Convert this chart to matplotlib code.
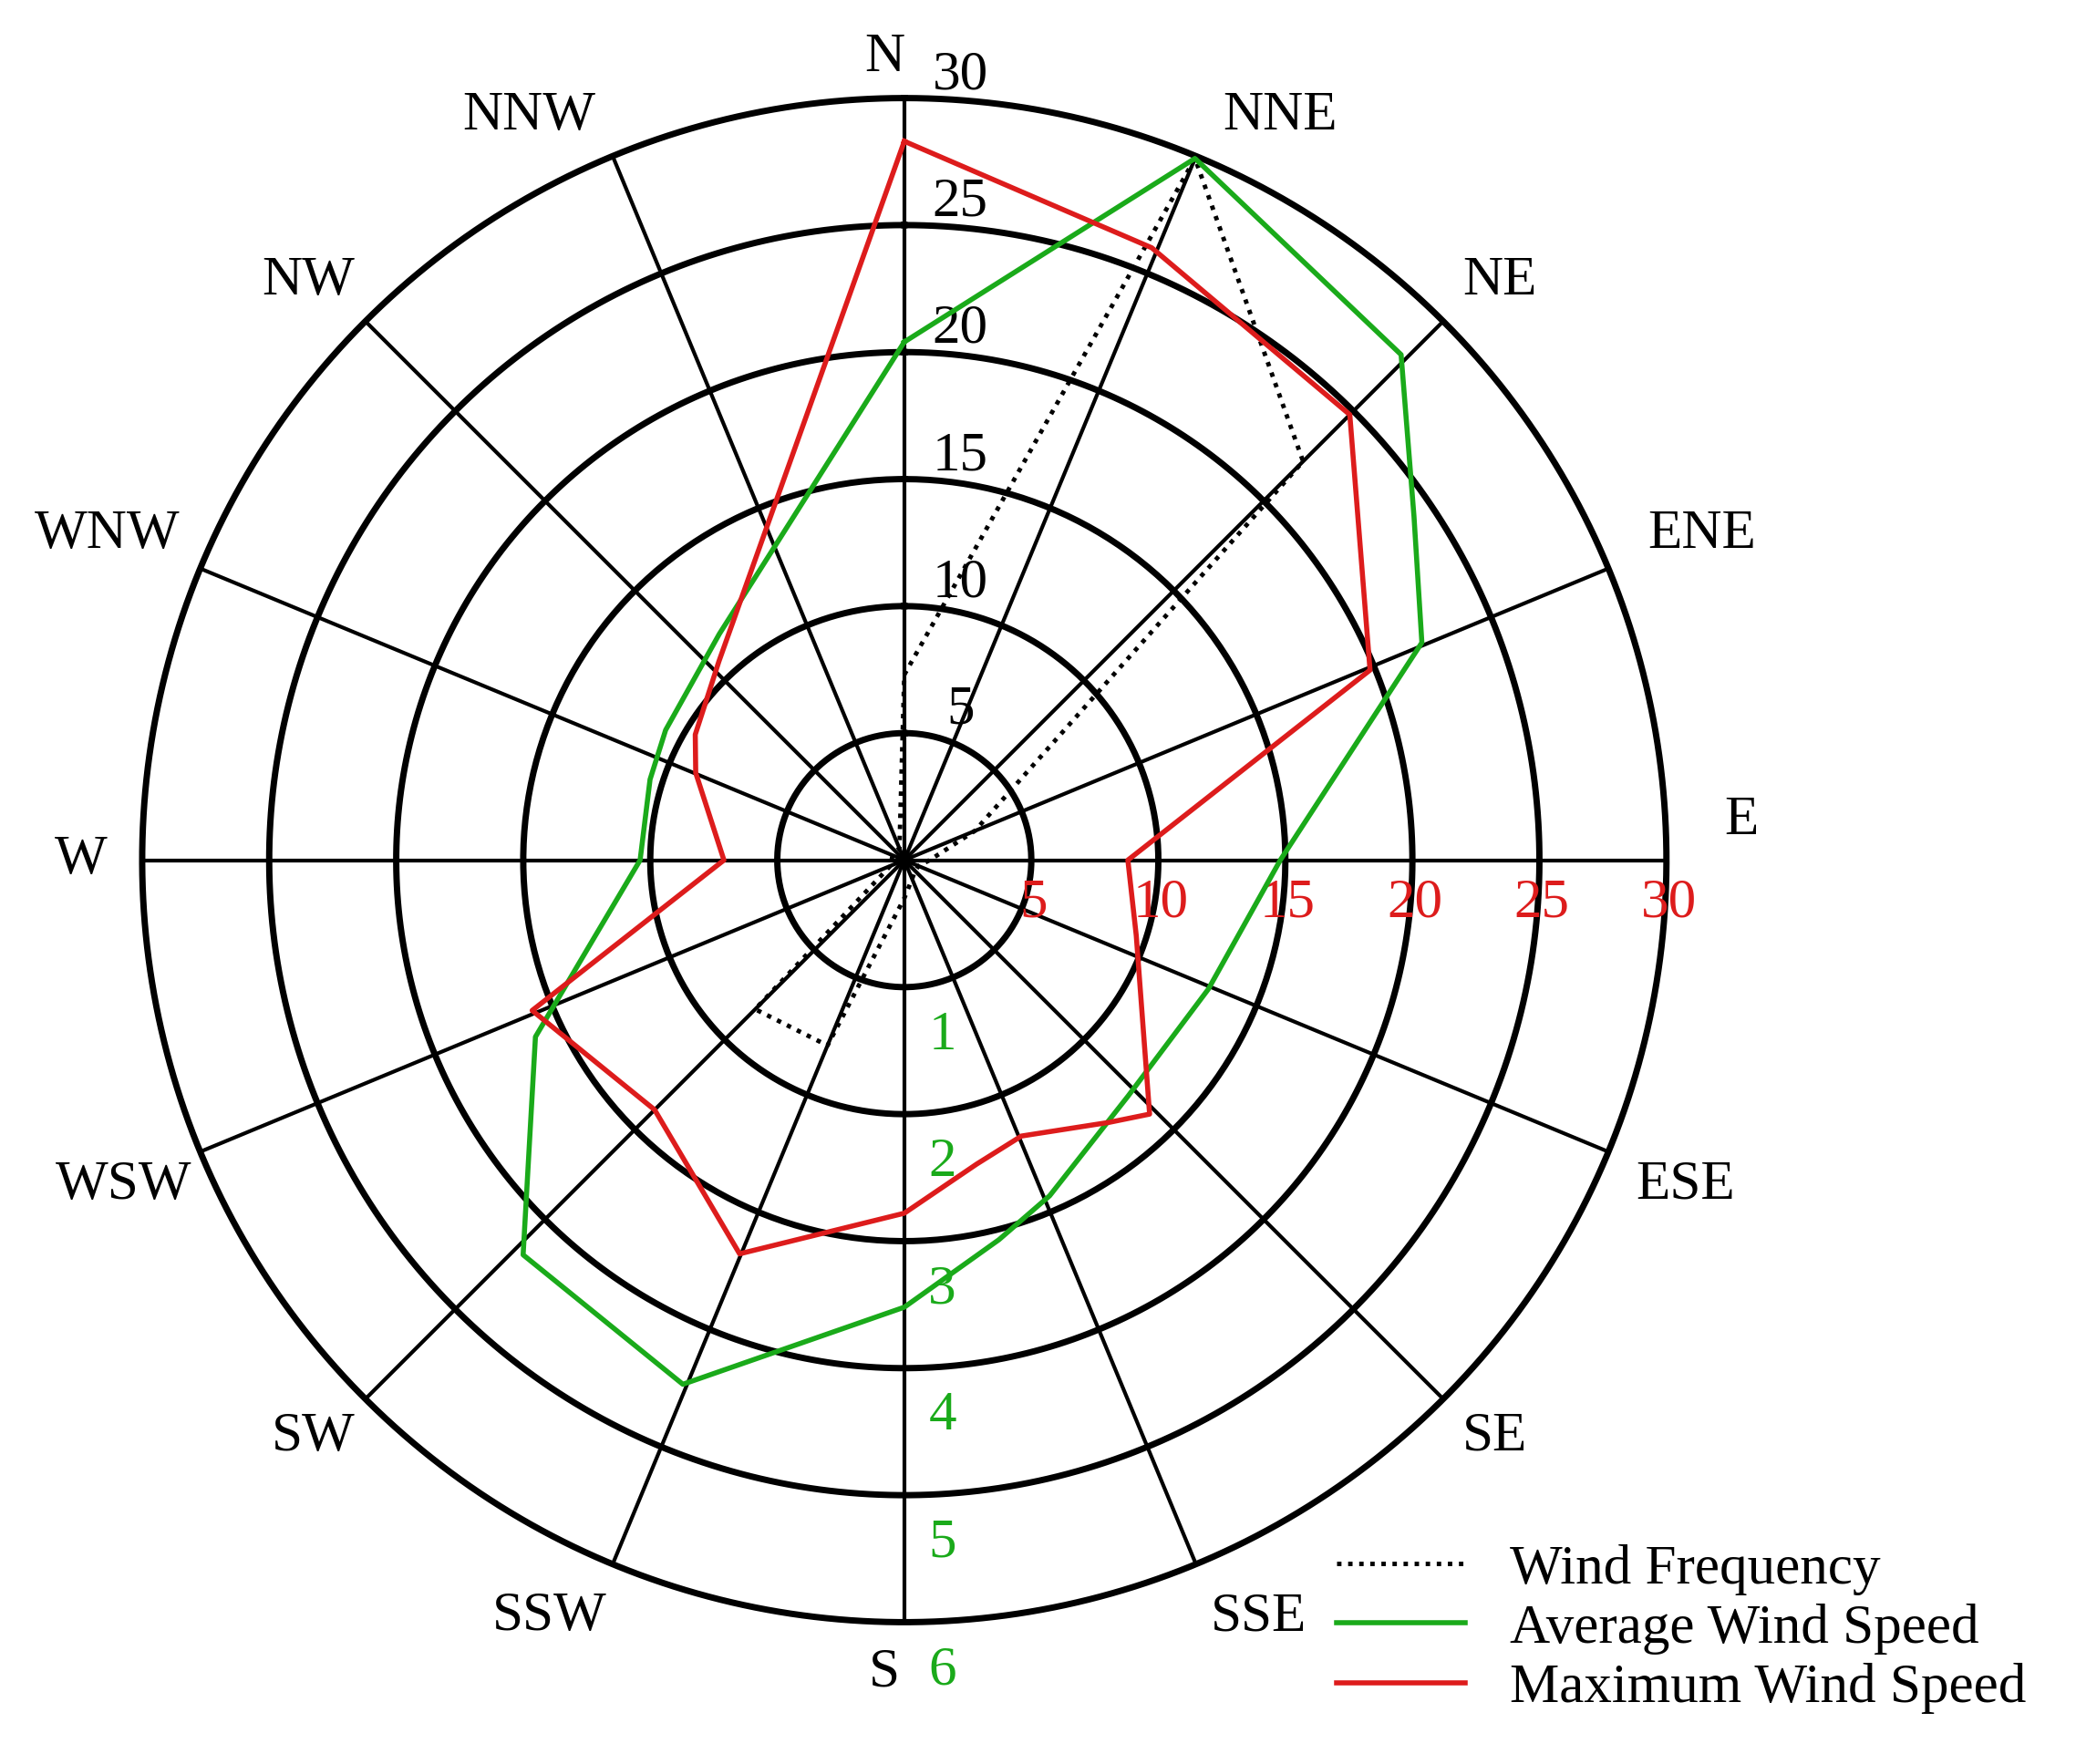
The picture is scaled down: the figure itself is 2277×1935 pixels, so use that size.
import numpy as np
import matplotlib
matplotlib.use("Agg")
import matplotlib.pyplot as plt

plt.rcParams['font.family'] = ['Liberation Serif', 'DejaVu Serif']

directions = ['N','NNE','NE','ENE','E','ESE','SE','SSE','S','SSW','SW','WSW','W','WNW','NW','NNW']
dir_angles = np.arange(16) * 22.5

# Average wind speed (m/s), polyline vertices (bearing deg, value)
avg_angles = [0, 22.5, 44.5, 56, 67.2, 90, 113, 136.5, 156.6, 166, 180, 202.9, 224, 244.4, 270, 287.6, 298.6, 320.7, 0]
avg_speed = [4.08, 5.98, 5.58, 4.84, 4.42, 2.96, 2.6, 2.56, 2.88, 3.08, 3.52, 4.48, 4.32, 3.22, 2.08, 2.1, 2.14, 2.3, 4.08]

# Maximum wind speed (m/s)
max_angles = [0, 22, 45, 67.8, 90, 108, 136, 142, 157, 166.6, 180, 202.7, 225, 248, 270, 292.7, 301, 317, 0]
max_speed = [28.3, 26.0, 24.8, 19.8, 8.8, 9.6, 13.9, 13.1, 11.8, 12.3, 13.9, 16.8, 13.9, 15.8, 7.1, 8.9, 9.6, 10.7, 28.3]

# Wind frequency (%)
freq = [7.3, 29.9, 22.2, 3.0, 1.0, 0.6, 0.6, 0.8, 1.5, 7.9, 8.3, 0.6, 0.5, 0.5, 0.5, 0.5]

speed_ticks = [5, 10, 15, 20, 25, 30]
avg_ticks = [1, 2, 3, 4, 5, 6]

# label placement (bearing deg, radius) per direction
label_pos = {'N': (-1.4, 31.6), 'NNE': (26.8, 32.8), 'NE': (45.8, 32.7), 'ENE': (67.8, 33.9),
             'E': (87.3, 33.0), 'ESE': (112.6, 33.3), 'SE': (134.3, 32.5), 'SSE': (154.9, 32.9),
             'S': (181.4, 32.0), 'SSW': (205.1, 32.9), 'SW': (225.7, 32.5), 'WSW': (247.4, 33.3),
             'W': (270, 32.4), 'WNW': (292.2, 33.9), 'NW': (314.2, 32.7), 'NNW': (333.2, 32.8)}

fig = plt.figure(figsize=(22.77, 19.35), dpi=100)
ax = fig.add_axes([0.0660, 0.0804, 0.7392, 0.864], projection='polar')
ax.set_theta_zero_location('N')
ax.set_theta_direction(-1)
ax.set_ylim(0, 30)
ax.grid(False)
ax.set_xticks([]); ax.set_yticks([])
ax.spines['polar'].set_visible(False)
ax.patch.set_visible(False)

th = np.linspace(0, 2*np.pi, 400)
for r in speed_ticks:
    ax.plot(th, np.full_like(th, r), color='black', lw=5, zorder=1, clip_on=False)
for a in dir_angles:
    ax.plot([np.deg2rad(a)]*2, [0, 30], color='black', lw=3, zorder=1, clip_on=False)

fa = np.deg2rad(np.append(dir_angles, 0))
ax.plot(fa, freq + [freq[0]], color='black', lw=3.5, ls=(0, (1, 1.5)), zorder=3, label='Wind Frequency')
ax.plot(np.deg2rad(avg_angles), np.array(avg_speed)*5, color='#1aaa1a', lw=4, zorder=4, label='Average Wind Speed')
ax.plot(np.deg2rad(max_angles), max_speed, color='#dd1c1c', lw=4, zorder=5, label='Maximum Wind Speed')

fs = 44
for name in directions:
    a, r = label_pos[name]
    ax.text(np.deg2rad(a), r, name, ha='center', va='center', fontsize=fs)

def place(x, y, s, color):
    # x east, y north in data units
    b = np.degrees(np.arctan2(x, y))
    ax.text(np.deg2rad(b), np.hypot(x, y), s, ha='center', va='center', fontsize=fs, color=color)

for v in speed_ticks:
    place(2.2, v + 0.9, str(v), 'black')
    place(v + 0.1, -1.7, str(v), '#dd1c1c')
for v in avg_ticks:
    place(1.5, -(v*5 + 1.9), str(v), '#1aaa1a')

fig.legend(loc='lower right', bbox_to_anchor=(1.0, 0.0), frameon=False, fontsize=fs,
           handlelength=2.3, labelspacing=0.15)
fig.savefig('out.png', dpi=100)
